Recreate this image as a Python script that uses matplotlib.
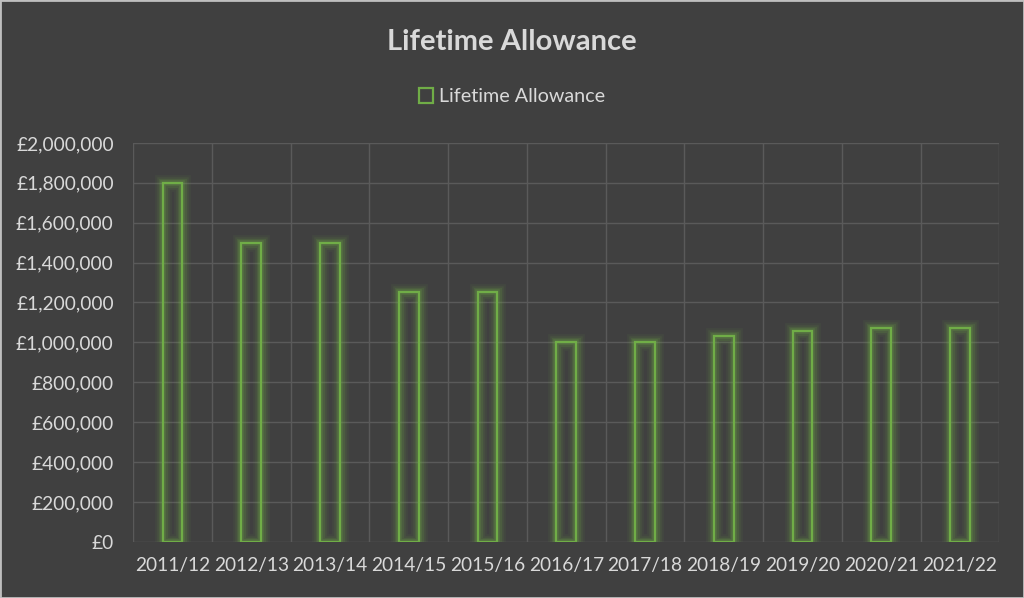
import matplotlib.pyplot as plt
from matplotlib.ticker import FuncFormatter

years = ['2011/12', '2012/13', '2013/14', '2014/15', '2015/16', '2016/17',
         '2017/18', '2018/19', '2019/20', '2020/21', '2021/22']
allowance = [1800000, 1500000, 1500000, 1250000, 1250000, 1000000,
             1000000, 1030000, 1055000, 1073100, 1073100]

bg = '#404040'
green = '#70AD47'
txt = '#D9D9D9'
plt.rcParams['font.family'] = ['Lato', 'DejaVu Sans']

fig = plt.figure(figsize=(10.24, 5.98), dpi=100, facecolor=bg)
ax = fig.add_axes([0.13, 0.094, 0.846, 0.667], facecolor=bg)

x = range(len(years))
# soft glow around each bar
for lw, a in [(12, 0.07), (9, 0.1), (6.5, 0.14), (4, 0.22)]:
    ax.bar(x, allowance, width=0.25, fill=False, edgecolor=green, linewidth=lw, alpha=a)
ax.bar(x, allowance, width=0.25, fill=False, edgecolor=green, linewidth=1.6,
       label='Lifetime Allowance')

ax.set_xlim(-0.5, len(years) - 0.5)
ax.set_ylim(0, 2000000)
ax.set_yticks(range(0, 2000001, 200000))
ax.yaxis.set_major_formatter(FuncFormatter(lambda v, p: f'£{v:,.0f}'))
ax.set_xticks(list(x))
ax.set_xticklabels(years)
ax.set_xticks([i + 0.5 for i in range(-1, len(years))], minor=True)

ax.grid(axis='y', which='major', color='#5A5A5A', linewidth=1)
ax.grid(axis='x', which='minor', color='#5A5A5A', linewidth=1)
ax.set_axisbelow(True)
for s in ax.spines.values():
    s.set_visible(False)
ax.tick_params(which='both', length=0, colors=txt, labelsize=13.8)
ax.tick_params(axis='x', pad=11)
ax.tick_params(axis='y', pad=14)

fig.text(0.5, 0.93, 'Lifetime Allowance', ha='center', va='center',
         color=txt, fontsize=21, fontweight='bold')
leg = fig.legend(loc='center', bbox_to_anchor=(0.5, 0.838), frameon=False,
                 fontsize=14.2, labelcolor=txt, handlelength=0.75, handleheight=0.75,
                 handletextpad=0.3)

fig.patches.append(plt.Rectangle((0, 0), 1, 1, transform=fig.transFigure,
                                 fill=False, edgecolor='#BFBFBF', linewidth=2))
fig.savefig('out.png', dpi=100, facecolor=bg)
